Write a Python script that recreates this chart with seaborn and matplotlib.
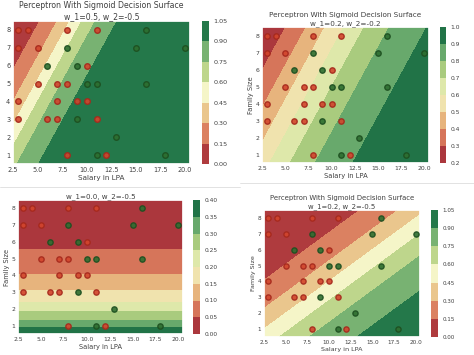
import numpy as np
import seaborn as sns
import matplotlib.pyplot as plt
from matplotlib.lines import Line2D

# training points: salary (LPA), family size, class (0 = red, 1 = green)
salary = [3, 4, 8, 11, 16, 3, 5, 8, 15, 20, 6, 9, 10, 5, 7, 8, 10, 11, 16,
          3, 7, 9, 10, 3, 6, 7, 9, 11, 13, 8, 11, 12, 18]
family = [8, 8, 8, 8, 8, 7, 7, 7, 7, 7, 6, 6, 6, 5, 5, 5, 5, 5, 5,
          4, 4, 4, 4, 3, 3, 3, 3, 3, 2, 1, 1, 1, 1]
label = [0, 0, 0, 0, 1, 0, 0, 1, 1, 1, 1, 1, 0, 0, 0, 0, 1, 1, 1,
         0, 0, 0, 0, 0, 0, 0, 1, 0, 1, 0, 1, 0, 1]

# weights shown in each panel title, plus a small bias
w1 = [0.5, 0.2, 0.0, 0.2]
w2 = [-0.5, -0.2, -0.5, -0.5]
bias = [-0.1, -0.16, -0.17, -0.2]
levels = [np.arange(0, 1.06, 0.15), np.arange(0.2, 1.01, 0.1),
          np.arange(0, 0.41, 0.05), np.arange(0, 1.06, 0.15)]

# panel layout in pixels: axes box, colorbar x range, scale of text
panels = [
    dict(ax=(13, 21, 190, 164), cb=(202, 209), k=1.0, title2=False, ylab=False),
    dict(ax=(262, 27, 429, 163), cb=(440, 446), k=0.94, title2=False, ylab=True),
    dict(ax=(18, 200, 183, 334), cb=(193, 200), k=0.92, title2=True, ylab=True),
    dict(ax=(264, 210, 420, 337), cb=(431, 438), k=0.88, title2=False, ylab=True),
]

W, H = 474, 355
sns.set_theme(style="darkgrid")
plt.rcParams["font.family"] = ["DejaVu Sans"]
fig = plt.figure(figsize=(W / 100, H / 100), dpi=100)
fig.patch.set_facecolor("white")

gx, gy = np.meshgrid(np.linspace(2.5, 20.5, 400), np.linspace(0.5, 8.5, 300))
cmap = plt.get_cmap("RdYlGn")
red_fill, red_edge = "#d2452c", "#a5281c"
green_fill, green_edge = "#2e6e30", "#1d4f20"

for i, p in enumerate(panels):
    x0, y0, x1, y1 = p["ax"]
    k = p["k"]
    ax = fig.add_axes([x0 / W, 1 - y1 / H, (x1 - x0) / W, (y1 - y0) / H])
    z = 1 / (1 + np.exp(-(w1[i] * gx + w2[i] * gy + bias[i])))
    n = len(levels[i]) - 1
    band_colors = [sns.desaturate(cmap((j + 0.5) / n), 0.7) for j in range(n)]
    cs = ax.contourf(gx, gy, z, levels=levels[i], colors=band_colors)
    for cls, fc, ec in [(0, red_fill, red_edge), (1, green_fill, green_edge)]:
        xs = [s for s, c in zip(salary, label) if c == cls]
        ys = [f for f, c in zip(family, label) if c == cls]
        sns.scatterplot(x=xs, y=ys, color=fc, edgecolor=ec, linewidth=1.0,
                        s=16 * k, alpha=0.9, ax=ax, zorder=3)
    ax.set_xlim(2.5, 20.5)
    ax.set_ylim(0.5, 8.5)
    ax.set_xticks([2.5, 5.0, 7.5, 10.0, 12.5, 15.0, 17.5, 20.0])
    ax.set_yticks(range(1, 9))
    ax.tick_params(labelsize=4.7 * k, pad=2, length=0, labelcolor="#404040")
    ax.grid(False)
    ax.set_xlabel("Salary in LPA", fontsize=5.2 * k, labelpad=1.5, color="#404040")
    if p["ylab"]:
        ax.set_ylabel("Family Size", fontsize=5.2 * k, labelpad=1, color="#404040")
    title = f"w_1={w1[i]:.1f}, w_2={w2[i]:.1f}"
    if not p["title2"]:
        title = "Perceptron With Sigmoid Decision Surface\n" + title
    ax.set_title(title, fontsize=5.6 * k, pad=1.5, linespacing=1.3, color="#404040")

    c0, c1 = p["cb"]
    cax = fig.add_axes([c0 / W, 1 - y1 / H, (c1 - c0) / W, (y1 - y0) / H])
    cb = fig.colorbar(cs, cax=cax)
    cb.outline.set_visible(False)
    cax.tick_params(labelsize=4.6 * k, length=0, pad=3, labelcolor="#404040")

# thin separators between the pasted screenshots
fig.add_artist(Line2D([0, 240 / W], [1 - 187 / H] * 2, color="#dddddd", lw=0.6))
fig.add_artist(Line2D([240 / W, 1], [1 - 183 / H] * 2, color="#dddddd", lw=0.6))

fig.savefig("out.png", dpi=100, facecolor="white")
